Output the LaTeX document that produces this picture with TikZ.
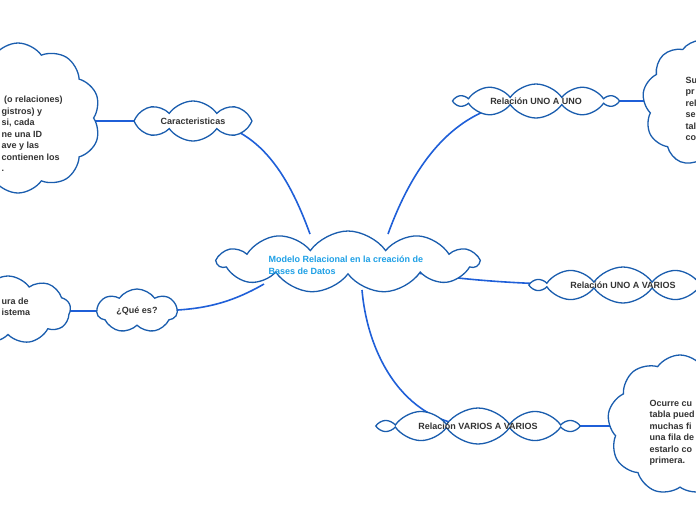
\documentclass[tikz,border=0pt]{standalone}
\usepackage{fontspec}
\setmainfont{Liberation Sans}
\usetikzlibrary{shapes.symbols}
\definecolor{cloudline}{HTML}{1A5DAE}
\definecolor{linkline}{HTML}{1F5FD8}
\definecolor{txtgray}{HTML}{333333}
\definecolor{titleblue}{HTML}{1EA0E6}
\tikzset{
  idea/.style={shape=cloud, draw=cloudline, line width=1.3pt, fill=white, cloud puffs=#1, cloud puff arc=110, inner sep=0pt},
  idea/.default=10,
  link/.style={draw=linkline, line width=1.6pt},
  lbl/.style={font=\fontsize{9}{11.5}\selectfont\bfseries, text=txtgray, align=left, anchor=west}
}
\begin{document}
\begin{tikzpicture}[x=1pt,y=-1pt]
  \useasboundingbox (0,0) rectangle (696,520);
  \clip (0,0) rectangle (696,520);
  % links first
  \coordinate (cc) at (348,262);
  \coordinate (gc) at (193,121);
  \coordinate (qc) at (137,311);
  \coordinate (uc) at (536,101);
  \coordinate (vc) at (623,285);
  \coordinate (wc) at (478,426);
  \draw[link] (310,234) to[out=110,in=0] (gc);
  \draw[link] (388,234) to[out=70,in=180] (uc);
  \draw[link] (cc) to[out=-10,in=180] (vc);
  \draw[link] (362,290) to[out=-85,in=180] (wc);
  \draw[link] (264,284) to[out=-150,in=0] (qc);
  \draw[link] (gc) -- (20,121);
  \draw[link] (qc) -- (15,311);
  \draw[link] (uc) -- (690,101);
  \draw[link] (wc) -- (672,426);
  % clouds
  \node[idea=10, minimum width=165pt, minimum height=150pt] (desc) at (18,118) {};
  \node[idea=9, minimum width=125pt, minimum height=68pt] (defin) at (8,310) {};
  \node[idea=9, minimum width=115pt, minimum height=125pt] (uno) at (700,103) {};
  \node[idea=9, minimum width=145pt, minimum height=140pt] (varios) at (680,425) {};
  \node[idea=11, minimum width=260pt, minimum height=62pt] (centro) at (cc) {};
  \node[idea=8, minimum width=118pt, minimum height=40pt] (carac) at (gc) {};
  \node[idea=7, minimum width=80pt, minimum height=44pt] (quees) at (qc) {};
  \node[idea=10, minimum width=160pt, minimum height=34pt] (unouno) at (uc) {};
  \node[idea=10, minimum width=180pt, minimum height=36pt] (unovar) at (vc) {};
  \node[idea=10, minimum width=195pt, minimum height=36pt] (varvar) at (wc) {};
  % texts
  \node[lbl, text=titleblue] (ttl) at (265,265) {Modelo Relacional en la creación de\\Bases de Datos};
  \node[lbl, anchor=center] (t1) at (gc) {Caracteristicas};
  \node[lbl, anchor=center] (t2) at (qc) {¿Qué es?};
  \node[lbl, anchor=center] (t3) at (uc) {Relación UNO A UNO};
  \node[lbl, anchor=center] (t4) at (vc) {Relación UNO A VARIOS};
  \node[lbl, anchor=center] (t5) at (wc) {Relación VARIOS A VARIOS};
  \node[lbl] (t6) at (-2,134) {~(o relaciones)\\gistros) y\\si, cada\\ne una ID\\ave y las\\contienen los\\.};
  \node[lbl] (t7) at (-2,307) {ura de\\istema};
  \node[lbl] (t8) at (682,109) {Su\\pr\\rel\\se\\tal\\co};
  \node[lbl] (t9) at (646,433) {Ocurre cu\\tabla pued\\muchas fi\\una fila de\\estarlo co\\primera.};
\end{tikzpicture}
\end{document}
